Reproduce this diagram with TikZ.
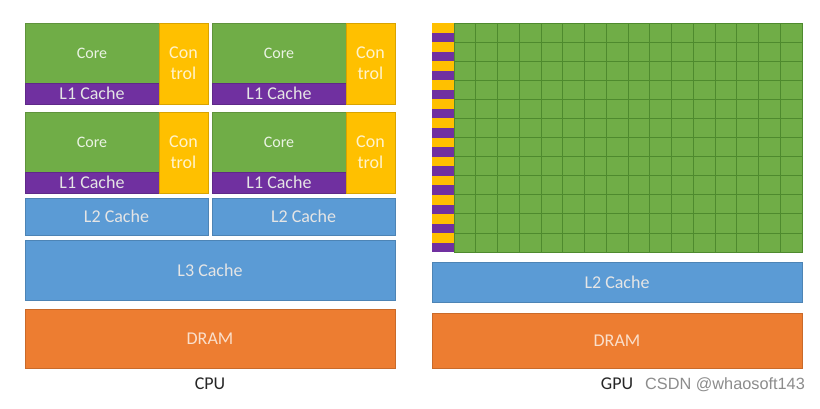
\documentclass[tikz,border=0pt]{standalone}
\usepackage{fontspec}
\setmainfont{Carlito}
\newfontfamily\markfont{Liberation Sans}
\definecolor{coregreen}{HTML}{70AD47}
\definecolor{gridgreen}{HTML}{4E8A2E}
\definecolor{l1purple}{HTML}{7030A0}
\definecolor{ctrlyellow}{HTML}{FFC000}
\definecolor{cacheblue}{HTML}{5B9BD5}
\definecolor{dramorange}{HTML}{ED7D31}
\tikzset{
  blk/.style={anchor=north west, inner sep=0pt, outer sep=0pt, line width=0.5pt,
    font=\fontsize{18}{20}\selectfont, text=white!90!black},
  core/.style={blk, fill=coregreen, draw=coregreen!85!black,
    minimum width=134pt, minimum height=60pt, font=\fontsize{16}{18}\selectfont,
    text=white!85!coregreen},
  lone/.style={blk, fill=l1purple, draw=l1purple!85!black,
    minimum width=134pt, minimum height=21pt},
  ctrl/.style={blk, fill=ctrlyellow, draw=ctrlyellow!85!black,
    minimum width=49pt, minimum height=81pt, align=center,
    text=white!80!ctrlyellow, font=\fontsize{18}{21}\selectfont},
  cache/.style={blk, fill=cacheblue, draw=cacheblue!85!black},
  dram/.style={blk, fill=dramorange, draw=dramorange!85!black,
    text=white!75!dramorange},
  chip/.style={font=\fontsize{18}{20}\selectfont, text=black!85}
}
\begin{document}
\begin{tikzpicture}[x=1pt, y=-1pt]
  \useasboundingbox[fill=white] (0,0) rectangle (820,408);
  % CPU
  \foreach \x/\y/\n in {25/23/1, 212/23/2, 25/112/3, 212/112/4} {
    \node[core] (core\n) at (\x,\y) {Core};
    \node[lone] (lone\n) at (\x,\y+60) {L1 Cache};
    \node[ctrl] (ctrl\n) at (\x+134,\y) {Con\\trol};
  }
  \node[cache, minimum width=183pt, minimum height=37pt] (ltwoa) at (25,198) {L2 Cache};
  \node[cache, minimum width=183pt, minimum height=37pt] (ltwob) at (212,198) {L2 Cache};
  \node[cache, minimum width=370pt, minimum height=60pt] (lthree) at (25,240) {L3 Cache};
  \node[dram, minimum width=370pt, minimum height=59pt] (cpudram) at (25,309) {DRAM};
  \node[chip] (cpu) at (210,384) {CPU};
  % GPU
  \node[blk, fill=coregreen, minimum width=348pt, minimum height=229pt] (cores) at (454,23) {};
  \foreach \i in {0,...,11} {
    \fill[ctrlyellow] (432,23+\i*19.083) rectangle (454,23+\i*19.083+9.8);
    \fill[l1purple] (432,23+\i*19.083+9.8) rectangle (454,23+\i*19.083+19.083);
  }
  \foreach \i in {1,...,11}
    \draw[gridgreen, line width=0.8pt] (454,23+\i*19.083) -- (802,23+\i*19.083);
  \foreach \j in {1,...,15}
    \draw[gridgreen, line width=0.8pt] (454+\j*21.75,23) -- (454+\j*21.75,252);
  \draw[gridgreen, line width=0.8pt] (cores.north west) rectangle (cores.south east);
  \node[cache, minimum width=370pt, minimum height=40pt] (gpultwo) at (432,262) {L2 Cache};
  \node[dram, minimum width=370pt, minimum height=55pt] (gpudram) at (432,313) {DRAM};
  \node[chip] (gpu) at (617,384) {GPU};
  \node[anchor=west, inner sep=0pt, font=\markfont\fontsize{16.3}{18}\selectfont,
    text=black!45] (mark) at (645,385) {CSDN @whaosoft143};
\end{tikzpicture}
\end{document}
